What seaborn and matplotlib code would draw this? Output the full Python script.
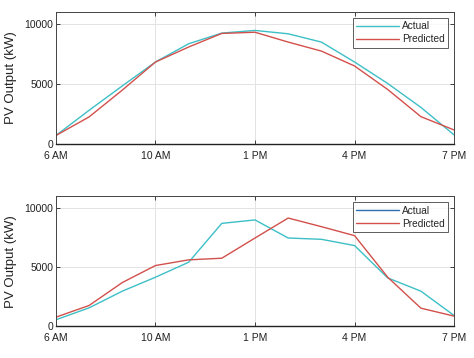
import matplotlib
matplotlib.use("Agg")
import matplotlib.pyplot as plt
import seaborn as sns
import pandas as pd

hours = list(range(13))
tick_pos = [0, 3, 6, 9, 12]
tick_labels = ["6 AM", "10 AM", "1 PM", "4 PM", "7 PM"]

top_actual = [700, 2800, 4830, 6820, 8340, 9230, 9450, 9170, 8480, 6820, 5030, 3040, 750]
top_predicted = [700, 2250, 4480, 6820, 8070, 9200, 9300, 8480, 7730, 6490, 4530, 2270, 1160]

bot_actual = [540, 1550, 2960, 4140, 5410, 8700, 8990, 7460, 7350, 6820, 4080, 2960, 900]
bot_predicted = [760, 1750, 3690, 5130, 5610, 5750, 7460, 9150, 8420, 7660, 4140, 1520, 850]

sns.set_theme(style="white")
plt.rcParams['font.family'] = ['Liberation Sans', 'DejaVu Sans']

fig = plt.figure(figsize=(4.74, 3.58), dpi=100)
ax1 = fig.add_axes([0.118, 0.598, 0.840, 0.369])
ax2 = fig.add_axes([0.118, 0.089, 0.840, 0.363])

c_act = "#3dbfc6"
c_pred = "#d2504c"

def draw(ax, act, pred, legend_act_color):
    df = pd.DataFrame({
        "t": hours + hours,
        "v": act + pred,
        "s": ["Actual"] * len(hours) + ["Predicted"] * len(hours),
    })
    sns.lineplot(data=df, x="t", y="v", hue="s", palette=[c_act, c_pred],
                 ax=ax, linewidth=1.0)
    ax.set_xlim(0, 12)
    ax.set_ylim(0, 11000)
    ax.set_xticks(tick_pos)
    ax.set_xticklabels(tick_labels)
    ax.set_yticks([0, 5000, 10000])
    ax.set_yticklabels(["0", "5000", "10000"])
    ax.set_xlabel("")
    ax.set_ylabel("PV Output (kW)", fontsize=9.5, color="#222222", labelpad=5)
    ax.grid(True, color="#e3e3e3", linewidth=0.7)
    ax.tick_params(direction="in", length=3, width=0.6, labelsize=7.5,
                   colors="#222222", top=True, right=True,
                   bottom=True, left=True)
    ax.tick_params(axis="x", pad=5)
    ax.tick_params(axis="y", pad=2)
    for sp in ax.spines.values():
        sp.set_color("#444444")
        sp.set_linewidth(0.7)
    ax.spines["bottom"].set_color("#222222")
    ax.spines["bottom"].set_linewidth(1.0)
    leg = ax.legend(loc="upper right", fontsize=7.3, frameon=True, fancybox=False,
                    edgecolor="#333333", borderpad=0.35, handlelength=4.2,
                    handletextpad=0.3, labelspacing=0.3, borderaxespad=0.6)
    leg.get_frame().set_linewidth(0.7)
    leg.legend_handles[0].set_color(legend_act_color)

draw(ax1, top_actual, top_predicted, c_act)
draw(ax2, bot_actual, bot_predicted, "#2a6fb0")

fig.savefig("out.png", dpi=100)
